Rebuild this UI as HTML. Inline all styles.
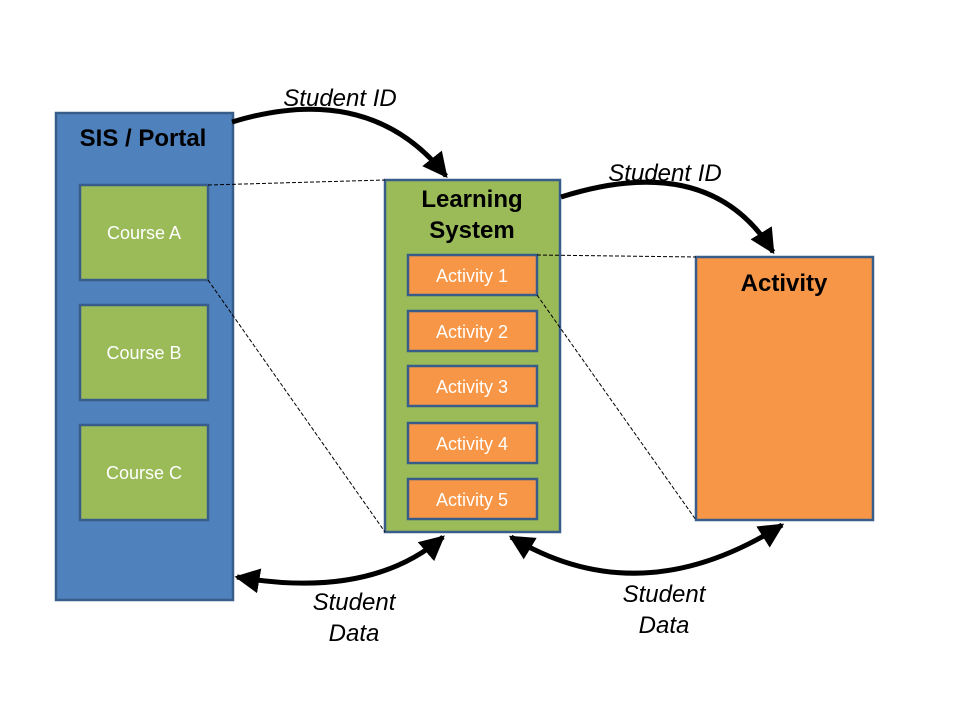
<!DOCTYPE html>
<html><head><meta charset="utf-8"><style>
html,body{margin:0;padding:0;background:#fff;width:960px;height:720px;overflow:hidden}
text{font-family:"Liberation Sans",sans-serif}
</style></head><body>
<svg width="960" height="720" viewBox="0 0 960 720" xmlns="http://www.w3.org/2000/svg">
<defs>
<marker id="ah" viewBox="0 0 10 10" refX="9" refY="5" markerWidth="5" markerHeight="5" markerUnits="strokeWidth" orient="auto-start-reverse">
<path d="M0,0 L10,5 L0,10 z" fill="#000"/>
</marker>
</defs>
<g stroke="#385d8a" stroke-width="2.5">
<rect x="56" y="113" width="177" height="487" fill="#4f81bd"/>
<rect x="80" y="185" width="128" height="95" fill="#9bbb59"/>
<rect x="80" y="305" width="128" height="95" fill="#9bbb59"/>
<rect x="80" y="425" width="128" height="95" fill="#9bbb59"/>
<rect x="385" y="180" width="175" height="352" fill="#9bbb59"/>
<rect x="408" y="255" width="129" height="40" fill="#f79646"/>
<rect x="408" y="311" width="129" height="40" fill="#f79646"/>
<rect x="408" y="366" width="129" height="40" fill="#f79646"/>
<rect x="408" y="423" width="129" height="40" fill="#f79646"/>
<rect x="408" y="479" width="129" height="40" fill="#f79646"/>
<rect x="696" y="257" width="177" height="263" fill="#f79646"/>
</g>
<g stroke="#000" stroke-width="1" stroke-dasharray="4,2" fill="none">
<line x1="208" y1="185" x2="385" y2="180"/>
<line x1="208" y1="280" x2="385" y2="532"/>
<line x1="537" y1="255" x2="696" y2="257"/>
<line x1="537" y1="295" x2="696" y2="520"/>
</g>
<g stroke="#000" stroke-width="5" fill="none">
<path d="M232,122 Q370,80 446,176" marker-end="url(#ah)"/>
<path d="M561,197 Q710,150 773,252" marker-end="url(#ah)"/>
<path d="M237,577 Q370,600 443,537" marker-start="url(#ah)" marker-end="url(#ah)"/>
<path d="M511,537 Q640,615 782,525" marker-start="url(#ah)" marker-end="url(#ah)"/>
</g>
<g text-anchor="middle">
<text x="143" y="146" font-size="24" font-weight="bold">SIS / Portal</text>
<text x="472" y="207" font-size="24" font-weight="bold">Learning</text>
<text x="472" y="238" font-size="24" font-weight="bold">System</text>
<text x="784" y="291" font-size="24" font-weight="bold">Activity</text>
<g fill="#fff" font-size="18">
<text x="144" y="239">Course A</text>
<text x="144" y="359">Course B</text>
<text x="144" y="479">Course C</text>
<text x="472" y="282">Activity 1</text>
<text x="472" y="338">Activity 2</text>
<text x="472" y="393">Activity 3</text>
<text x="472" y="450">Activity 4</text>
<text x="472" y="506">Activity 5</text>
</g>
<g font-size="24" font-style="italic">
<text x="340" y="106">Student ID</text>
<text x="665" y="181">Student ID</text>
<text x="354" y="610">Student</text>
<text x="354" y="641">Data</text>
<text x="664" y="602">Student</text>
<text x="664" y="633">Data</text>
</g>
</g>
</svg>
</body></html>
